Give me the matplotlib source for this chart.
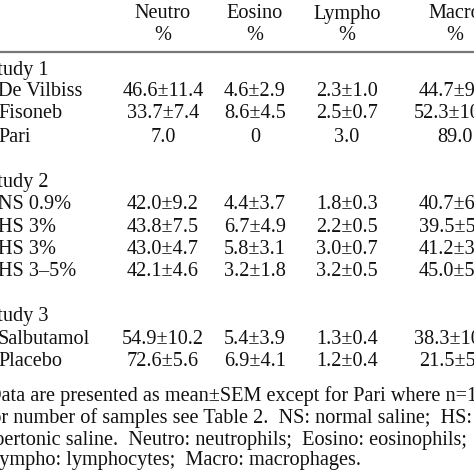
import matplotlib
matplotlib.use("Agg")
import matplotlib.pyplot as plt

columns = ["Neutro", "Eosino", "Lympho", "Macro"]
studies = ["Study 1", "Study 2", "Study 3"]
rows = [["De Vilbiss", "Fisoneb", "Pari"],
        ["NS 0.9%", "HS 3%", "HS 3%", "HS 3–5%"],
        ["Salbutamol", "Placebo"]]
neutro = [["46.6±11.4", "33.7±7.4", "7.0"],
          ["42.0±9.2", "43.8±7.5", "43.0±4.7", "42.1±4.6"],
          ["54.9±10.2", "72.6±5.6"]]
eosino = [["4.6±2.9", "8.6±4.5", "0"],
          ["4.4±3.7", "6.7±4.9", "5.8±3.1", "3.2±1.8"],
          ["5.4±3.9", "6.9±4.1"]]
lympho = [["2.3±1.0", "2.5±0.7", "3.0"],
          ["1.8±0.3", "2.2±0.5", "3.0±0.7", "3.2±0.5"],
          ["1.3±0.4", "1.2±0.4"]]
macro = [["44.7±9.8", "52.3±10.1", "89.0"],
         ["40.7±6.5", "39.5±5.8", "41.2±3.6", "45.0±5.2"],
         ["38.3±10.4", "21.5±5.3"]]
footnote = ["Data are presented as mean±SEM except for Pari where n=1.",
            "For number of samples see Table 2.  NS: normal saline;  HS:",
            "hypertonic saline.  Neutro: neutrophils;  Eosino: eosinophils;",
            "Lympho: lymphocytes;  Macro: macrophages."]

W = H = 474
fig = plt.figure(figsize=(4.74, 4.74), dpi=100)
fig.patch.set_facecolor("white")
FONT = ["Liberation Serif", "DejaVu Serif"]
FS = 14.6

def T(x, y, s, ha="left", **kw):
    fig.text(x / W, 1 - y / H, s, ha=ha, va="center", family=FONT,
             fontsize=kw.pop("fs", FS), color="#111111", **kw)

colx = [163, 255, 347, 455]
for c, x in zip(columns, colx):
    T(x, 14, c, ha="center")
    T(x, 36, "%", ha="center")
fig.add_artist(plt.Line2D([0, 1], [1 - 52 / H] * 2, color="#777777", lw=1.6))

study_y = [70, 182, 317]
row_y = [[92, 114, 137], [204, 227, 249, 271], [339, 361]]
for si, s in enumerate(studies):
    T(-14, study_y[si], s)
    for ri, r in enumerate(rows[si]):
        y = row_y[si][ri]
        T(-2, y, r)
        for x, col in zip(colx, [neutro, eosino, lympho, macro]):
            T(x, y, col[si][ri], ha="center")

fx = [-13, -20, -26, -12]
fy = [396, 418, 440, 461]
for x, y, line in zip(fx, fy, footnote):
    T(x, y, line)

fig.savefig("out.png", dpi=100, facecolor="white")
